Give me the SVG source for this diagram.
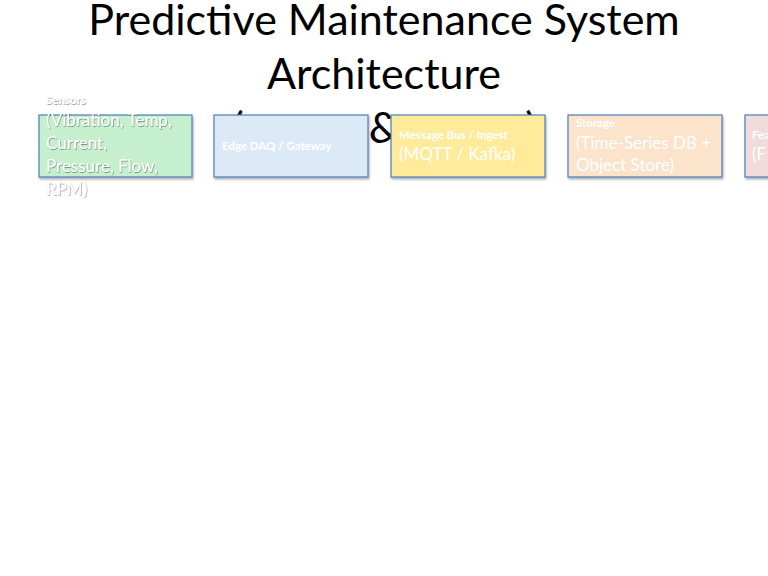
<svg xmlns="http://www.w3.org/2000/svg" width="768" height="576" viewBox="0 0 768 576">
<defs>
<style>
.t{font-family:Lato,"Open Sans",sans-serif;fill:#000;font-size:43px;text-anchor:middle}
.b{stroke:#4a7ebb;stroke-width:1.2}
.s{font-family:Lato,"Open Sans",sans-serif;fill:#fff;font-size:11.5px;font-weight:bold}
.l{font-family:Lato,"Open Sans",sans-serif;fill:#fff;font-size:17px}
.w{filter:url(#ts)}
</style>
<filter id="sh" x="-5%" y="-5%" width="115%" height="130%"><feDropShadow dx="1" dy="2" stdDeviation="1.2" flood-opacity="0.3"/></filter>
<filter id="ts" x="-10%" y="-30%" width="120%" height="160%"><feDropShadow dx="0.6" dy="0.8" stdDeviation="0.7" flood-color="#000" flood-opacity="0.45"/></filter>
</defs>
<rect width="768" height="576" fill="#fff"/>
<g id="title">
<text class="t" x="384" y="35">Predictive Maintenance System</text>
<text class="t" x="384" y="89">Architecture</text>
<text class="t" y="143"><tspan x="238">(</tspan><tspan x="384">&amp;</tspan><tspan x="531">)</tspan></text>
</g>
<g id="sensors">
<rect class="b" x="39" y="115" width="153" height="62" fill="#c6efce" filter="url(#sh)"/>
<g class="w">
<text class="s" x="46" y="104">Sensors</text>
<text class="l" x="46" y="126">(Vibration, Temp,</text>
<text class="l" x="46" y="149">Current,</text>
<text class="l" x="46" y="172">Pressure, Flow,</text>
<text class="l" x="46" y="195">RPM)</text>
</g>
</g>
<g id="edge">
<rect class="b" x="214" y="115" width="154" height="62" fill="#dce9f7" filter="url(#sh)"/>
<text class="s" x="222" y="150">Edge DAQ / Gateway</text>
</g>
<g id="bus">
<rect class="b" x="391" y="115" width="154" height="62" fill="#ffeb99" filter="url(#sh)"/>
<text class="s" x="399" y="139">Message Bus / Ingest</text>
<text class="l" x="399" y="160">(MQTT / Kafka)</text>
</g>
<g id="storage">
<rect class="b" x="568" y="115" width="154" height="62" fill="#fce4cc" filter="url(#sh)"/>
<text class="s" x="576" y="127">Storage</text>
<text class="l" x="576" y="149">(Time-Series DB +</text>
<text class="l" x="576" y="171">Object Store)</text>
</g>
<g id="features">
<rect class="b" x="745" y="115" width="154" height="62" fill="#f2dcdb" filter="url(#sh)"/>
<text class="s" x="752" y="139">Fea</text>
<text class="l" x="752" y="160">(F</text>
</g>
<g id="connectors"></g>
</svg>
